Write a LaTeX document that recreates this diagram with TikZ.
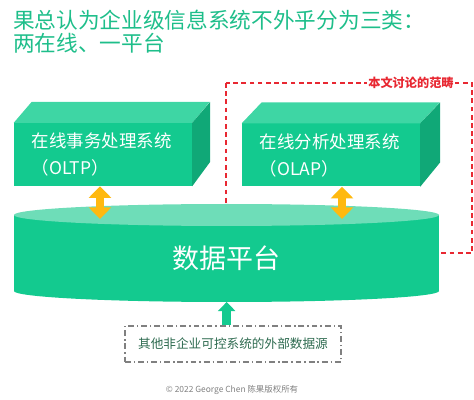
\documentclass[tikz,border=0pt]{standalone}
\usepackage{fontspec}
\setmainfont{Noto Sans CJK SC}
\usetikzlibrary{arrows.meta}
\definecolor{boxgreen}{RGB}{19,202,143}
\definecolor{topgreen}{RGB}{62,214,164}
\definecolor{sidegreen}{RGB}{16,168,119}
\definecolor{lidgreen}{RGB}{110,221,184}
\definecolor{titlegreen}{RGB}{30,190,138}
\definecolor{arroworange}{RGB}{255,185,15}
\definecolor{scopered}{RGB}{232,40,50}
\definecolor{srcgreen}{RGB}{45,106,79}
\tikzset{
  face/.style={fill=boxgreen, minimum width=5.34cm, minimum height=1.89cm, inner sep=0pt},
  boxtext/.style={text=white, font=\fontsize{14.9}{23}\selectfont, align=left, anchor=west, inner sep=0pt},
  link/.style={arroworange, line width=0.24cm, {Triangle[length=0.35cm,width=0.66cm]}-{Triangle[length=0.35cm,width=0.66cm]}}
}
\begin{document}
\begin{tikzpicture}[x=0.03cm,y=-0.03cm]
\useasboundingbox (0,0) rectangle (474,400);
\node[anchor=north west, inner sep=0pt, align=left, text=titlegreen,
  font=\fontsize{18.5}{19.6}\selectfont] (title) at (13,9.5)
  {果总认为企业级信息系统不外乎分为三类：\\两在线、一平台};

\draw[scopered, line width=1.2pt, dash pattern=on 4pt off 3pt] (226,83) rectangle (472,253);
\node[fill=white, inner sep=1pt, text=scopered, font=\bfseries\fontsize{10.4}{12}\selectfont] (scope) at (411,83) {本文讨论的范畴};

\node[face] (oltp) at (103,154.5) {};
\fill[topgreen] (oltp.north west) -- ++(18,-21) -- ++(178,0) -- (oltp.north east) -- cycle;
\fill[sidegreen] (oltp.north east) -- ++(18,-21) -- ++(0,60) -- (oltp.south east) -- cycle;
\node[boxtext] at ([xshift=0.54cm]oltp.west) {在线事务处理系统\\（OLTP）};

\node[face] (olap) at (331,155) {};
\fill[topgreen] (olap.north west) -- ++(20,-21) -- ++(178,0) -- (olap.north east) -- cycle;
\fill[sidegreen] (olap.north east) -- ++(20,-21) -- ++(0,60) -- (olap.south east) -- cycle;
\node[boxtext] at ([xshift=0.54cm]olap.west) {在线分析处理系统\\（OLAP）};

\fill[boxgreen] (226.5,291) ellipse[x radius=212.5, y radius=11];
\fill[boxgreen] (14,215) rectangle (439,291);
\fill[lidgreen] (226.5,215) ellipse[x radius=212.5, y radius=11];
\node[text=white, font=\fontsize{23}{27}\selectfont] (pt) at (226.5,258) {数据平台};
\coordinate (lid) at (226.5,219);
\coordinate (base) at (226.5,302);

\draw[link] ([xshift=-0.09cm]oltp.south) -- ([xshift=-0.09cm]oltp.south |- lid);
\draw[link] ([xshift=0.33cm]olap.south) -- ([xshift=0.33cm]olap.south |- lid);

\node[draw=gray, line width=1pt, dash pattern=on 5pt off 2.5pt on 1.2pt off 2.5pt,
  minimum width=6.48cm, minimum height=1.08cm, text=srcgreen,
  font=\fontsize{10.8}{13}\selectfont] (src) at (233,344) {其他非企业可控系统的外部数据源};
\draw[boxgreen, line width=0.27cm, -{Triangle[length=0.27cm,width=0.51cm]}]
  ([xshift=-0.19cm]src.north) -- ([xshift=-0.19cm]src.north |- base);

\node[text=gray, font=\fontsize{7.2}{9}\selectfont] (copy) at (232,390) {© 2022 George Chen 陈果版权所有};
\end{tikzpicture}
\end{document}
